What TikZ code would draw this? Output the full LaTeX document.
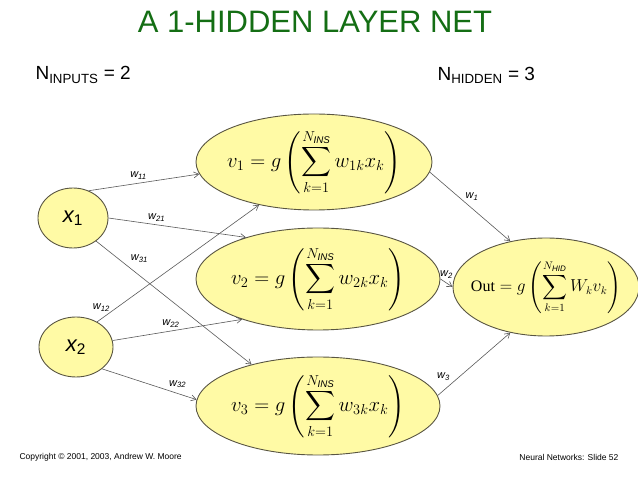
\documentclass[tikz,border=0pt]{standalone}
\usepackage{amsmath}
\usepackage{fontspec}
\setmainfont{Liberation Sans}
\newfontfamily\serifrm{Liberation Serif}
\usetikzlibrary{shapes.geometric,arrows.meta}
\definecolor{nodefill}{RGB}{255,250,165}
\definecolor{titlegreen}{RGB}{20,110,20}
\tikzset{
 neuron/.style={ellipse,draw=black!75!yellow,line width=0.9pt,fill=nodefill,inner sep=0pt},
 bigneuron/.style={neuron,inner xsep=-24pt,inner ysep=-16pt},
 conn/.style={draw=black!65,line width=0.6pt,-{Straight Barb[length=5pt,width=6pt]}},
 wlab/.style={font=\fontsize{11}{12}\selectfont\itshape},
}
\newcommand{\myhidsum}[1]{\fontsize{19.5}{22}\selectfont$\displaystyle v_{#1}=g\left(\sum_{k=1}^{N_{\mathit{INS}}} w_{#1k}x_k\right)$}
\begin{document}
\begin{tikzpicture}[x=1pt,y=-1pt]
\useasboundingbox (0,0) rectangle (638,478);
\node[text=titlegreen,font=\fontsize{31}{34}\selectfont] (title) at (315,22) {A 1-HIDDEN LAYER NET};
\node[font=\fontsize{19}{22}\selectfont,anchor=west] (ni) at (32,75) {N\textsubscript{INPUTS} = 2};
\node[font=\fontsize{19}{22}\selectfont,anchor=west] (nh) at (434,75) {N\textsubscript{HIDDEN} = 3};
\node[neuron,minimum width=70,minimum height=60,font=\fontsize{22}{24}\selectfont\itshape] (x1) at (73,218) {x\textsubscript{\upshape 1}};
\node[neuron,minimum width=74,minimum height=60,font=\fontsize{22}{24}\selectfont\itshape] (x2) at (76,347) {x\textsubscript{\upshape 2}};
\node[bigneuron,minimum width=236,minimum height=96] (v1) at (314,162) {\myhidsum{1}};
\node[bigneuron,minimum width=244,minimum height=102] (v2) at (318,279) {\myhidsum{2}};
\node[bigneuron,minimum width=244,minimum height=98] (v3) at (318,406) {\myhidsum{3}};
\node[bigneuron,inner xsep=-22pt,minimum width=186,minimum height=98] (out) at (546,287) {\fontsize{16}{20}\selectfont$\displaystyle \text{\serifrm Out}=g\left(\sum_{k=1}^{N_{\mathit{HID}}} W_k v_k\right)$};
\draw[conn] (x1.60) -- (v1.186) node[wlab,pos=0.45,above] {w\textsubscript{11}};
\draw[conn] (x1.east) -- (v2.150) node[wlab,pos=0.35,above] {w\textsubscript{21}};
\draw[conn] (x1.315) -- (v3.148) node[wlab,pos=0.2,above right] {w\textsubscript{31}};
\draw[conn] (x2.50) -- (v1.218) node[wlab,pos=0.12,left=3pt] {w\textsubscript{12}};
\draw[conn] (x2.10) -- (v2.208) node[wlab,pos=0.45,above] {w\textsubscript{22}};
\draw[conn] (x2.320) -- (v3.177) node[wlab,pos=0.8,above=2pt] {w\textsubscript{32}};
\draw[conn] (v1.355) -- (out.128) node[wlab,pos=0.35,right=4pt] {w\textsubscript{1}};
\draw[conn] (v2.east) -- (out.west) node[wlab,midway,above=1pt] {w\textsubscript{2}};
\draw[conn] (v3.5) -- (out.232) node[wlab,pos=0.3,left=6pt] {w\textsubscript{3}};
\node[font=\fontsize{8.5}{10}\selectfont,anchor=west] (copy) at (16,457) {Copyright © 2001, 2003, Andrew W. Moore};
\node[font=\fontsize{8.5}{10}\selectfont,anchor=east] (slide) at (622,457) {Neural Networks: Slide 52};
\end{tikzpicture}
\end{document}
